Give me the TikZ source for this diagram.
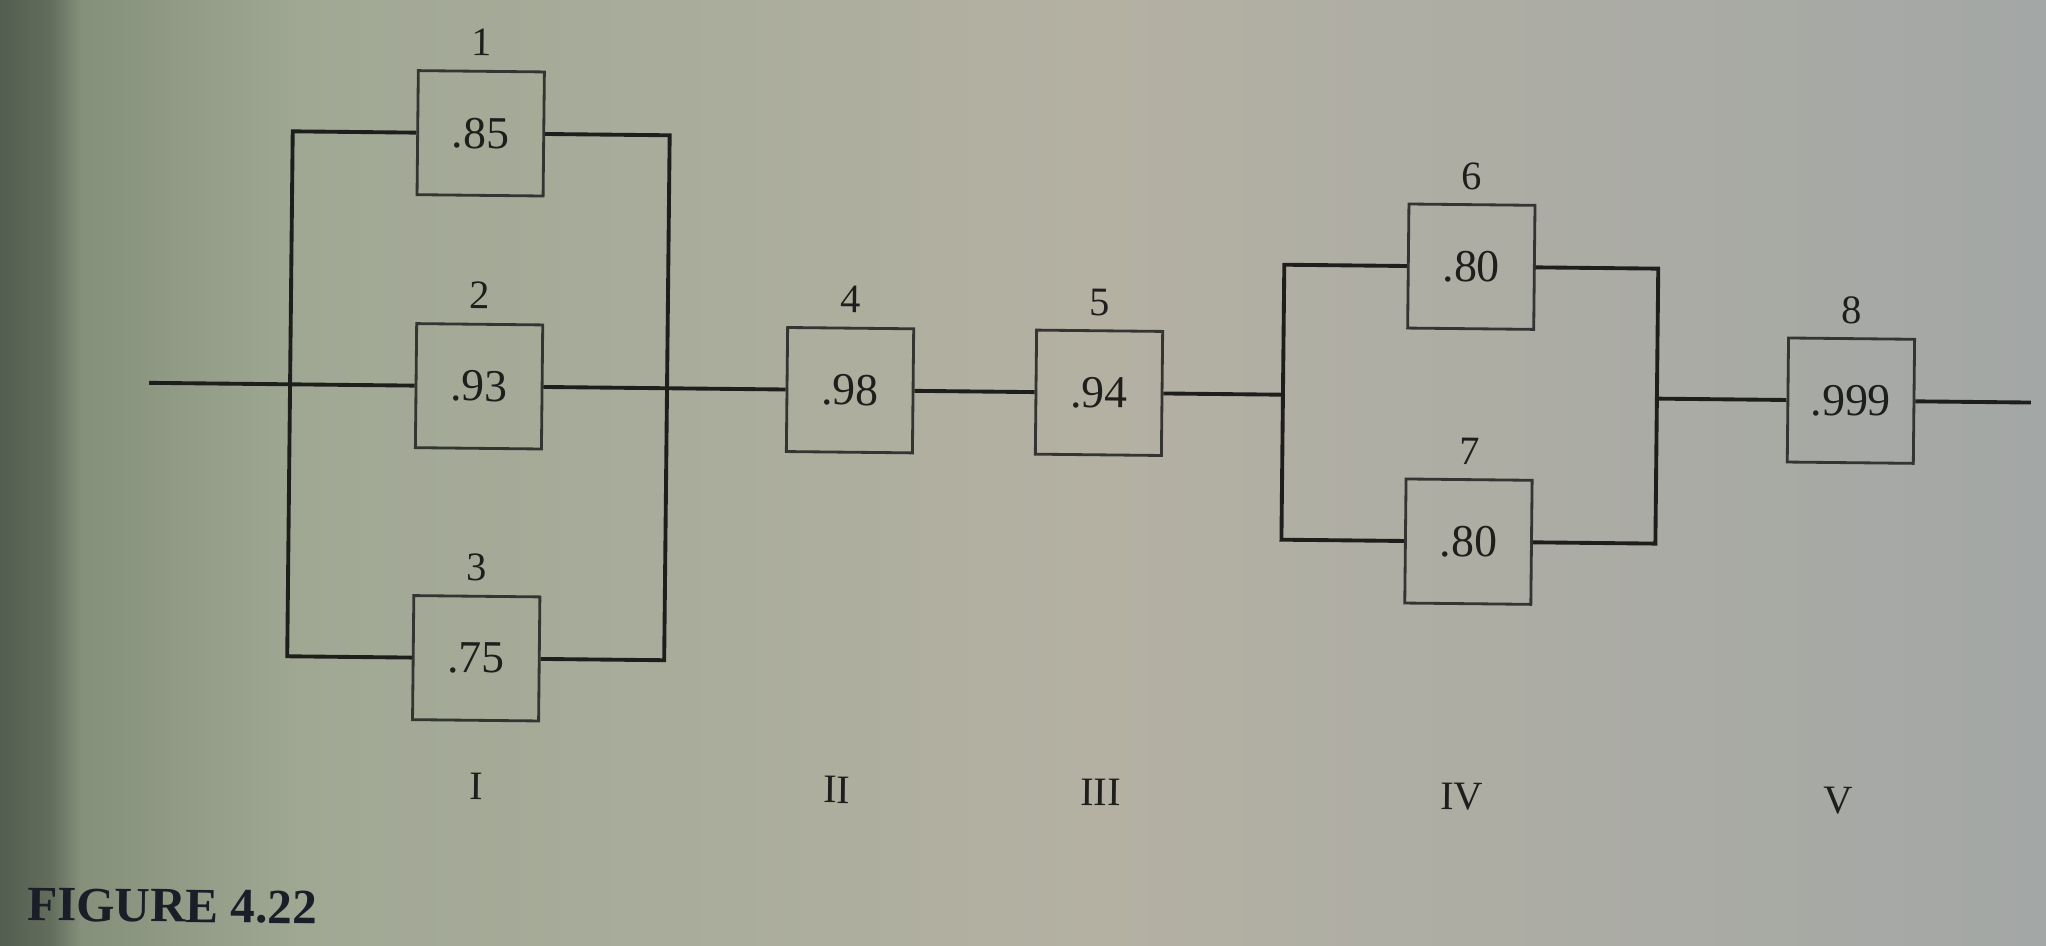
\documentclass[tikz,border=0pt]{standalone}
\usepackage{fontspec}
\setmainfont{Liberation Serif}
\usetikzlibrary{calc}
\definecolor{bgA}{RGB}{84,94,80}
\definecolor{bgA2}{RGB}{98,109,92}
\definecolor{bgB}{RGB}{132,144,122}
\definecolor{bgC}{RGB}{160,168,148}
\definecolor{bgD}{RGB}{180,177,163}
\definecolor{bgE}{RGB}{163,167,165}
\definecolor{ink}{RGB}{30,30,28}
\definecolor{boxline}{RGB}{52,52,50}
\definecolor{capink}{RGB}{25,30,40}
\begin{document}
\begin{tikzpicture}[x=0.01cm,y=-0.01cm,
  unit/.style={draw=boxline, line width=0.8pt, minimum width=1.26cm, minimum height=1.24cm,
    inner sep=0pt, text=ink, font=\fontsize{13}{13}\selectfont},
  wire/.style={draw=ink, line width=1.1pt},
  lab/.style={text=ink, inner sep=0pt, anchor=base, font=\fontsize{11.5}{11.5}\selectfont},
  caption/.style={text=capink, inner sep=0pt, anchor=base west, font=\fontsize{14}{14}\selectfont\bfseries}]
\useasboundingbox (0,0) rectangle (2046,946);
% paper background
\shade[left color=bgA, right color=bgA2] (0,0) rectangle (51,946);
\shade[left color=bgA2, right color=bgB] (50,0) rectangle (81,946);
\shade[left color=bgB, right color=bgC] (80,0) rectangle (301,946);
\shade[left color=bgC, right color=bgD] (300,0) rectangle (1101,946);
\shade[left color=bgD, right color=bgE] (1100,0) rectangle (2046,946);
\begin{scope}[rotate around={-0.6:(1023,392)}, transform shape]
  % units
  \node[unit] (b1) at (478,139) {.85};
  \node[unit] (b2) at (479,392) {.93};
  \node[unit] (b3) at (479,664) {.75};
  \node[unit] (b4) at (850,392) {.98};
  \node[unit] (b5) at (1099,392) {.94};
  \node[unit] (b6) at (1470,262) {.80};
  \node[unit] (b7) at (1470,537) {.80};
  \node[unit] (b8) at (1851,392) {.999};
  % unit numbers
  \node[lab] (l1) at ($(b1.north)+(0,-14)$) {1};
  \node[lab] (l2) at ($(b2.north)+(0,-14)$) {2};
  \node[lab] (l3) at ($(b3.north)+(0,-14)$) {3};
  \node[lab] (l4) at ($(b4.north)+(0,-14)$) {4};
  \node[lab] (l5) at ($(b5.north)+(0,-14)$) {5};
  \node[lab] (l6) at ($(b6.north)+(0,-14)$) {6};
  \node[lab] (l7) at ($(b7.north)+(0,-14)$) {7};
  \node[lab] (l8) at ($(b8.north)+(0,-14)$) {8};
  % stage numerals
  \node[lab] (s1) at (480,805) {I};
  \node[lab] (s2) at (841,805) {II};
  \node[lab] (s3) at (1105,805) {III};
  \node[lab] (s4) at (1466,805) {IV};
  \node[lab] (s5) at (1842,805) {V};
  % bus coordinates
  \coordinate (in) at (149,392);
  \coordinate (busIL) at (290,392);
  \coordinate (busIR) at (667,392);
  \coordinate (busIVL) at (1283,392);
  \coordinate (busIVR) at (1657,392);
  \coordinate (out) at (2031,392);
  % stage I
  \draw[wire] (in) -- (b2.west);
  \draw[wire] (b1.west) -- (b1.west -| busIL) -- (b3.west -| busIL) -- (b3.west);
  \draw[wire] (b1.east) -- (b1.east -| busIR) -- (b3.east -| busIR) -- (b3.east);
  \draw[wire] (b2.east) -- (b4.west);
  % stages II, III
  \draw[wire] (b4.east) -- (b5.west);
  \draw[wire] (b5.east) -- (busIVL);
  % stage IV
  \draw[wire] (b6.west) -- (b6.west -| busIVL) -- (b7.west -| busIVL) -- (b7.west);
  \draw[wire] (b6.east) -- (b6.east -| busIVR) -- (b7.east -| busIVR) -- (b7.east);
  \draw[wire] (busIVR) -- (b8.west);
  % stage V
  \draw[wire] (b8.east) -- (out);
  % caption
  \node[caption] (cap) at (32,931) {FIGURE 4.22};
\end{scope}
\end{tikzpicture}
\end{document}
